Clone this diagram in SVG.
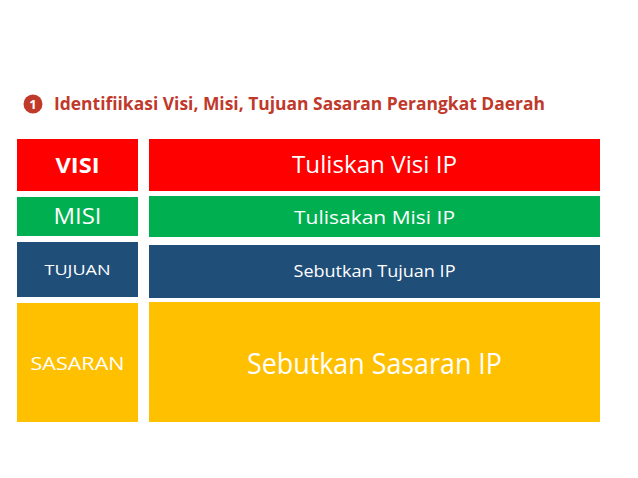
<svg xmlns="http://www.w3.org/2000/svg" width="638" height="478" viewBox="0 0 638 478">
<style>
text{font-family:"Open Sans","Liberation Sans",sans-serif;fill:#fff;text-anchor:middle}
.t{fill:#C0392B;font-weight:bold;text-anchor:start;font-size:17px}
.red{fill:#FF0000}.green{fill:#00B050}.blue{fill:#1F4E79}.yellow{fill:#FFC000}
</style>
<rect width="638" height="478" fill="#fff"/>
<g id="title">
<circle cx="33" cy="104" r="9.5" fill="#C0392B"/>
<text x="33" y="109" style="font-size:13px;font-weight:bold">1</text>
<text class="t" x="54" y="110" textLength="491" lengthAdjust="spacingAndGlyphs">Identifiikasi Visi, Misi, Tujuan Sasaran Perangkat Daerah</text>
</g>
<g id="visi-label"><rect class="red" x="17" y="139" width="121" height="52"/><text x="77.5" y="173" style="font-size:22px;font-weight:bold" textLength="44" lengthAdjust="spacingAndGlyphs">VISI</text></g>
<g id="visi-value"><rect class="red" x="149" y="139" width="451" height="52"/><text x="374.5" y="173" style="font-size:23px" textLength="165" lengthAdjust="spacingAndGlyphs">Tuliskan Visi IP</text></g>
<g id="misi-label"><rect class="green" x="17" y="197" width="121" height="39"/><text x="77.5" y="224" style="font-size:22px" textLength="48" lengthAdjust="spacingAndGlyphs">MISI</text></g>
<g id="misi-value"><rect class="green" x="149" y="196" width="451" height="41"/><text x="374.5" y="224" style="font-size:19px" textLength="161" lengthAdjust="spacingAndGlyphs">Tulisakan Misi IP</text></g>
<g id="tujuan-label"><rect class="blue" x="17" y="242" width="121" height="55"/><text x="77.5" y="275" style="font-size:15px" textLength="66" lengthAdjust="spacingAndGlyphs">TUJUAN</text></g>
<g id="tujuan-value"><rect class="blue" x="149" y="245" width="451" height="53"/><text x="374.5" y="277" style="font-size:16px" textLength="162" lengthAdjust="spacingAndGlyphs">Sebutkan Tujuan IP</text></g>
<g id="sasaran-label"><rect class="yellow" x="17" y="303" width="121" height="119"/><text x="77.5" y="370" style="font-size:18px" textLength="94" lengthAdjust="spacingAndGlyphs">SASARAN</text></g>
<g id="sasaran-value"><rect class="yellow" x="149" y="302" width="451" height="120"/><text x="374.5" y="374" style="font-size:29px" textLength="255" lengthAdjust="spacingAndGlyphs">Sebutkan Sasaran IP</text></g>
</svg>
